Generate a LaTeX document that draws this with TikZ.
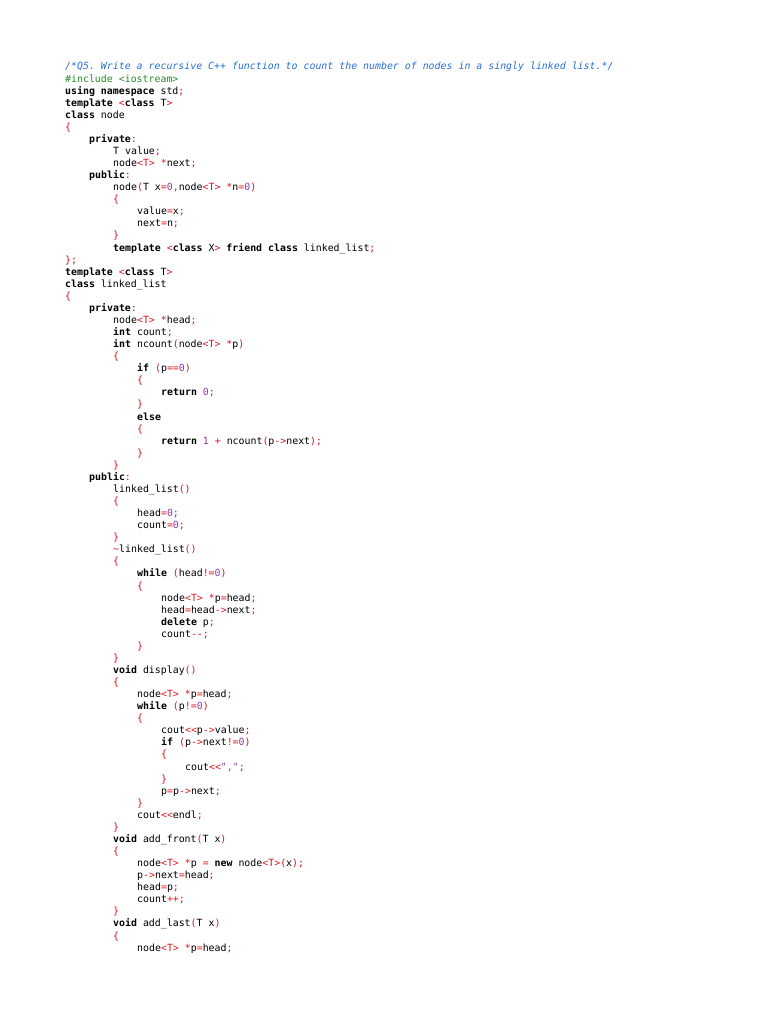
\documentclass[tikz,border=0pt]{standalone}
\usepackage{fontspec}
\setmonofont{DejaVu Sans Mono}
\definecolor{cred}{RGB}{220,20,30}
\definecolor{cpur}{RGB}{140,60,170}
\definecolor{cblue}{RGB}{40,110,210}
\definecolor{cgreen}{RGB}{40,140,40}
\newcommand{\cR}[1]{\textcolor{cred}{#1}}
\newcommand{\cK}[1]{\textbf{#1}}
\newcommand{\cN}[1]{\textcolor{cpur}{#1}}
\newcommand{\cLT}{\cR{<T>}}
\tikzset{codeline/.style={anchor=base west,inner sep=0pt,font=\ttfamily\fontsize{9.9pt}{12pt}\selectfont}}
\newcommand{\cl}[3]{\node[codeline] (l#1) at ({65+24*#2},{-(70+12.07*(#1-1))}) {#3};}
\begin{document}
\begin{tikzpicture}[x=1pt,y=1pt]
\useasboundingbox (0,0) rectangle (768,-1024);
\cl{1}{0}{\textcolor{cblue}{\itshape /*Q5. Write a recursive C++ function to count the number of nodes in a singly linked list.*/}}
\cl{2}{0}{\textcolor{cgreen}{\#include <iostream>}}
\cl{3}{0}{\cK{using} \cK{namespace} std\cR{;}}
\cl{4}{0}{\cK{template} \cR{<}\cK{class} T\cR{>}}
\cl{5}{0}{\cK{class} node}
\cl{6}{0}{\cR{\{}}
\cl{7}{1}{\cK{private}\cR{:}}
\cl{8}{2}{T value\cR{;}}
\cl{9}{2}{node\cLT{} \cR{*}next\cR{;}}
\cl{10}{1}{\cK{public}\cR{:}}
\cl{11}{2}{node\cR{(}T x\cR{=}\cN{0}\cR{,}node\cLT{} \cR{*}n\cR{=}\cN{0}\cR{)}}
\cl{12}{2}{\cR{\{}}
\cl{13}{3}{value\cR{=}x\cR{;}}
\cl{14}{3}{next\cR{=}n\cR{;}}
\cl{15}{2}{\cR{\}}}
\cl{16}{2}{\cK{template} \cR{<}\cK{class} X\cR{>} \cK{friend} \cK{class} linked\_list\cR{;}}
\cl{17}{0}{\cR{\};}}
\cl{18}{0}{\cK{template} \cR{<}\cK{class} T\cR{>}}
\cl{19}{0}{\cK{class} linked\_list}
\cl{20}{0}{\cR{\{}}
\cl{21}{1}{\cK{private}\cR{:}}
\cl{22}{2}{node\cLT{} \cR{*}head\cR{;}}
\cl{23}{2}{\cK{int} count\cR{;}}
\cl{24}{2}{\cK{int} ncount\cR{(}node\cLT{} \cR{*}p\cR{)}}
\cl{25}{2}{\cR{\{}}
\cl{26}{3}{\cK{if} \cR{(}p\cR{==}\cN{0}\cR{)}}
\cl{27}{3}{\cR{\{}}
\cl{28}{4}{\cK{return} \cN{0}\cR{;}}
\cl{29}{3}{\cR{\}}}
\cl{30}{3}{\cK{else}}
\cl{31}{3}{\cR{\{}}
\cl{32}{4}{\cK{return} \cN{1} \cR{+} ncount\cR{(}p\cR{->}next\cR{);}}
\cl{33}{3}{\cR{\}}}
\cl{34}{2}{\cR{\}}}
\cl{35}{1}{\cK{public}\cR{:}}
\cl{36}{2}{linked\_list\cR{()}}
\cl{37}{2}{\cR{\{}}
\cl{38}{3}{head\cR{=}\cN{0}\cR{;}}
\cl{39}{3}{count\cR{=}\cN{0}\cR{;}}
\cl{40}{2}{\cR{\}}}
\cl{41}{2}{\cR{\textasciitilde}linked\_list\cR{()}}
\cl{42}{2}{\cR{\{}}
\cl{43}{3}{\cK{while} \cR{(}head\cR{!=}\cN{0}\cR{)}}
\cl{44}{3}{\cR{\{}}
\cl{45}{4}{node\cLT{} \cR{*}p\cR{=}head\cR{;}}
\cl{46}{4}{head\cR{=}head\cR{->}next\cR{;}}
\cl{47}{4}{\cK{delete} p\cR{;}}
\cl{48}{4}{count\cR{-{}-;}}
\cl{49}{3}{\cR{\}}}
\cl{50}{2}{\cR{\}}}
\cl{51}{2}{\cK{void} display\cR{()}}
\cl{52}{2}{\cR{\{}}
\cl{53}{3}{node\cLT{} \cR{*}p\cR{=}head\cR{;}}
\cl{54}{3}{\cK{while} \cR{(}p\cR{!=}\cN{0}\cR{)}}
\cl{55}{3}{\cR{\{}}
\cl{56}{4}{cout\cR{<<}p\cR{->}value\cR{;}}
\cl{57}{4}{\cK{if} \cR{(}p\cR{->}next\cR{!=}\cN{0}\cR{)}}
\cl{58}{4}{\cR{\{}}
\cl{59}{5}{cout\cR{<<}\cN{","}\cR{;}}
\cl{60}{4}{\cR{\}}}
\cl{61}{4}{p\cR{=}p\cR{->}next\cR{;}}
\cl{62}{3}{\cR{\}}}
\cl{63}{3}{cout\cR{<<}endl\cR{;}}
\cl{64}{2}{\cR{\}}}
\cl{65}{2}{\cK{void} add\_front\cR{(}T x\cR{)}}
\cl{66}{2}{\cR{\{}}
\cl{67}{3}{node\cLT{} \cR{*}p \cR{=} \cK{new} node\cLT{}\cR{(}x\cR{);}}
\cl{68}{3}{p\cR{->}next\cR{=}head\cR{;}}
\cl{69}{3}{head\cR{=}p\cR{;}}
\cl{70}{3}{count\cR{++;}}
\cl{71}{2}{\cR{\}}}
\cl{72}{2}{\cK{void} add\_last\cR{(}T x\cR{)}}
\cl{73}{2}{\cR{\{}}
\cl{74}{3}{node\cLT{} \cR{*}p\cR{=}head\cR{;}}
\end{tikzpicture}
\end{document}
